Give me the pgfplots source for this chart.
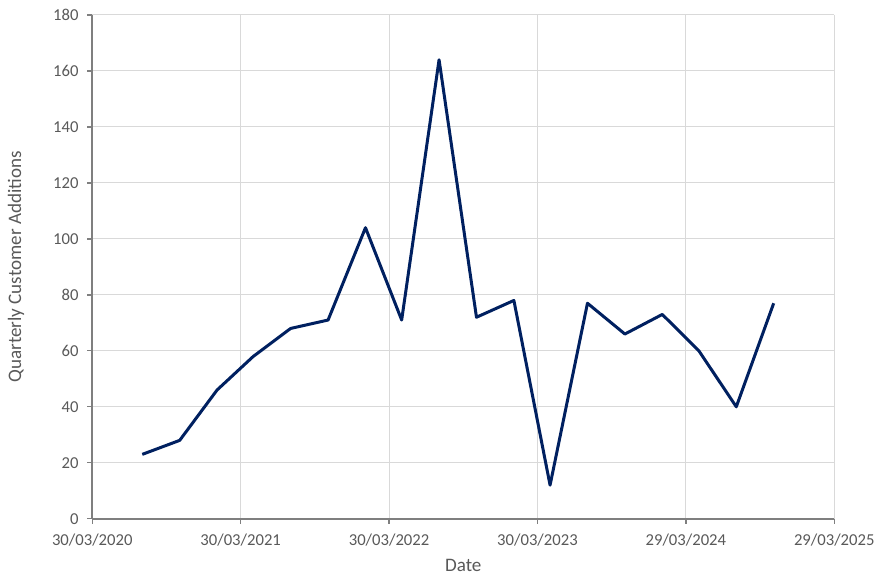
\documentclass[border=0pt]{standalone}
\usepackage{fontspec}
\setmainfont{Carlito}
\usepackage{pgfplots}
\pgfplotsset{compat=1.18}

\definecolor{navyline}{HTML}{002060}
\definecolor{txtgray}{HTML}{595959}
\definecolor{gridgray}{HTML}{D9D9D9}
\definecolor{axgray}{HTML}{7F7F7F}

% days since 30/03/2020, quarterly customer additions
\pgfplotstableread{
day  adds
123  23
215  28
307  46
396  58
488  68
580  71
672  104
761  71
853  164
945  72
1037 78
1126 12
1218 77
1310 66
1402 73
1492 60
1584 40
1676 77
}\custdata

\begin{document}
\begin{tikzpicture}
\begin{axis}[
    scale only axis,
    width=556.5pt,
    height=377.8pt,
    xmin=0, xmax=1825,
    ymin=0, ymax=180,
    xtick={0,365,730,1095,1460,1825},
    xticklabels={30/03/2020,30/03/2021,30/03/2022,30/03/2023,29/03/2024,29/03/2025},
    ytick distance=20,
    axis lines*=left,
    axis line style={draw=axgray, line width=1.2pt},
    tick align=outside,
    major tick length=3.75pt,
    tick style={draw=axgray, line width=1pt},
    grid=major,
    grid style={draw=gridgray, line width=0.75pt},
    ticklabel style={font=\fontsize{12.5}{14}\selectfont, text=txtgray},
    xticklabel style={yshift=-4pt},
    yticklabel style={xshift=-3pt},
    /pgf/number format/assume math mode=true,
    every axis x label/.style={at={(axis description cs:0.5,0)}, anchor=center, yshift=-35.1pt},
    every axis y label/.style={at={([xshift=-57.2pt]axis description cs:0,0.5)}, rotate=90, anchor=center},
    label style={font=\fontsize{14.3}{16}\selectfont, text=txtgray},
    xlabel={Date},
    ylabel={Quarterly Customer Additions},
    clip=false,
]
\addplot[navyline, line width=2.25pt, line join=round] table[x=day, y=adds] {\custdata};
\end{axis}
\pgfresetboundingbox
\path ([shift={(-69.2pt,-45.2pt)}]current axis.south west) rectangle ([shift={(38.8pt,11.25pt)}]current axis.north east);
\end{tikzpicture}
\end{document}
